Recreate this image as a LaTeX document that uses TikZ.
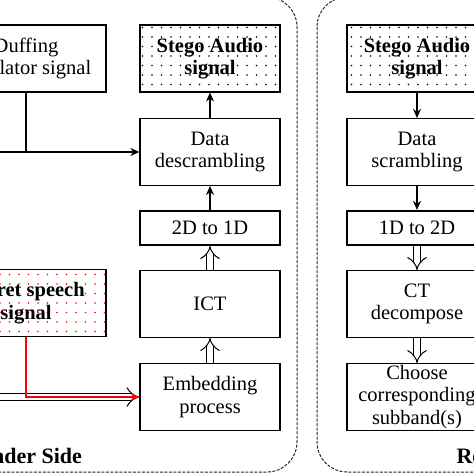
\documentclass[tikz,border=0pt]{standalone}
\usepackage{fontspec}
\setmainfont{Liberation Serif}
\usetikzlibrary{
    arrows.meta,
    patterns.meta
}
\tikzset {
    block/.style = {draw, line width = 1.1pt, minimum width = 140pt, minimum height = 67pt,
        inner sep = 0pt, align = center, font = \fontsize{20.5}{22.5}\selectfont},
    thick block/.style = {block, line width = 2.2pt, minimum height = 34pt},
    wide block/.style = {block, minimum width = 160pt},
    dotted block/.style = {pattern = {Dots[distance = 9.5pt, radius = 0.9pt]}, pattern color = #1,
        font = \fontsize{20.5}{22.5}\selectfont\bfseries},
    %
    arrow/.style = {line width = 1.1pt, -{Stealth[length = 9pt, width = 8pt]}},
    hollow arrow/.style = {double, double distance = 6pt, line width = 1pt, -{Implies}},
    panel/.style = {draw = black!85, dash pattern = on 3pt off 1.5pt, line width = 1pt,
        rounded corners = 30pt},
    side label/.style = {font = \fontsize{22}{24}\selectfont\bfseries, anchor = base}
}
\begin{document}
\begin{tikzpicture}[x = 1pt, y = -1pt]
    \useasboundingbox (0, 0) rectangle (474, 474);
    \clip (0, 0) rectangle (474, 474);
    % panels
    \draw [panel] (-200, -3) rectangle (297, 472);
    \draw [panel] (317, -3) rectangle (700, 472);
    \node [side label] (sender) at (26, 463) {Sender Side};
    \node [side label, anchor = base west] (receiver) at (453, 463) {Receiver Side};
    % sender side
    \node [wide block] (duff) at (26, 58.5) {Duffing\\oscillator signal};
    \node [wide block, dotted block = red] (secret) at (26, 303) {Secret speech\\signal};
    \node [block, dotted block = black] (stegoL) at (210, 58.5) {Stego Audio\\signal};
    \node [block] (descr) at (210, 152) {Data\\descrambling};
    \node [thick block] (todL) at (210, 228) {2D to 1D};
    \node [block] (ict) at (210, 304) {ICT};
    \node [block] (embed) at (210, 397) {Embedding\\process};
    \coordinate (keyin) at (-5, 152);
    \coordinate (hostin) at (-5, 397);
    \draw [arrow] (keyin) -- (descr.west);
    \draw [line width = 1.1pt] (duff.south) -- (duff.south |- descr.west);
    \draw [arrow] (descr) -- (stegoL);
    \draw [arrow] (todL) -- (descr);
    \draw [hollow arrow] (ict) -- (todL);
    \draw [hollow arrow] (embed) -- (ict);
    \draw [hollow arrow] (hostin) -- (embed.west);
    \draw [arrow, red] (secret.south) |- (embed.west);
    % receiver side
    \node [block, dotted block = black] (stegoR) at (417, 58.5) {Stego Audio\\signal};
    \node [block] (scr) at (417, 152) {Data\\scrambling};
    \node [thick block] (todR) at (417, 228) {1D to 2D};
    \node [block] (ctd) at (417, 304) {CT\\decompose};
    \node [block] (choose) at (417, 397) {Choose\\corresponding\\subband(s)};
    \draw [arrow] (stegoR) -- (scr);
    \draw [arrow] (scr) -- (todR);
    \draw [hollow arrow] (todR) -- (ctd);
    \draw [hollow arrow] (ctd) -- (choose);
\end{tikzpicture}
\end{document}
